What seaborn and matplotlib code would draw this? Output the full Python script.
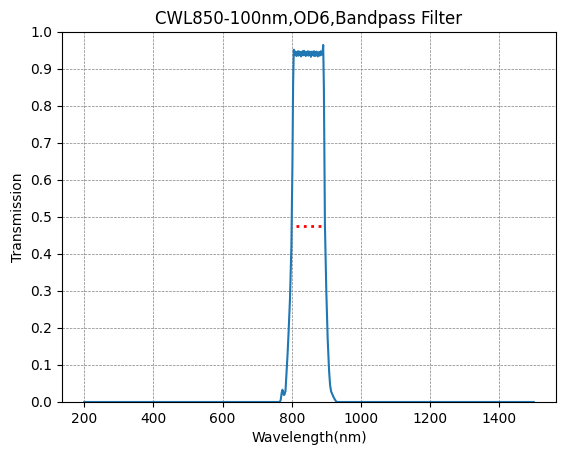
# ============================================================================
# Bandpass filter transmission curve (CWL850-100nm, OD6)
# ============================================================================

import matplotlib
matplotlib.use("Agg")

import pandas as pd
import matplotlib.pyplot as plt
import seaborn as sns


# ============================================================================
# Data
# ============================================================================

wavelength = [
    200, 400, 600, 765, 768, 771, 773, 775, 777, 779, 782, 785, 788,
    791, 795, 799, 802, 804,
    806, 807.5, 809, 810.5, 812, 813.5, 815, 816.5, 818, 819.5, 821, 822.5,
    824, 825.5, 827, 828.5, 830, 831.5, 833, 834.5, 836, 837.5, 839, 840.5,
    842, 843.5, 845, 846.5, 848, 849.5, 851, 852.5, 854, 855.5, 857, 858.5,
    860, 861.5, 863, 864.5, 866, 867.5, 869, 870.5, 872, 873.5, 875, 876.5,
    878, 879.5, 881, 882.5, 884, 885.5, 887, 888.5, 890, 891,
    893, 896, 900, 904, 908, 911, 914, 917, 920, 924, 928, 931,
    1000, 1200, 1500,
]

transmission = [
    0.0, 0.0, 0.0, 0.0, 0.005, 0.025, 0.033, 0.028, 0.019, 0.020, 0.030, 0.08, 0.13,
    0.19, 0.28, 0.42, 0.64, 0.86,
    0.952, 0.946, 0.938, 0.947, 0.941, 0.935, 0.945, 0.939, 0.948, 0.936, 0.943, 0.947,
    0.938, 0.944, 0.934, 0.946, 0.940, 0.948, 0.937, 0.943, 0.949, 0.938, 0.941, 0.935,
    0.946, 0.939, 0.944, 0.948, 0.936, 0.942, 0.947, 0.938, 0.945, 0.933, 0.941, 0.947,
    0.939, 0.944, 0.936, 0.948, 0.940, 0.935, 0.945, 0.938, 0.947, 0.941, 0.934, 0.944,
    0.939, 0.946, 0.936, 0.943, 0.948, 0.938, 0.944, 0.940, 0.952, 0.965,
    0.85, 0.48, 0.30, 0.17, 0.085, 0.045, 0.028, 0.022, 0.015, 0.008, 0.002, 0.0,
    0.0, 0.0, 0.0,
]

# FWHM marker (half maximum level between the band edges)
fwhm_x = [813, 885]
fwhm_y = [0.476, 0.476]

curve = pd.DataFrame({"Wavelength": wavelength, "Transmission": transmission})
fwhm = pd.DataFrame({"Wavelength": fwhm_x, "Transmission": fwhm_y})


# ============================================================================
# Plot
# ============================================================================

fig, ax = plt.subplots(figsize=(5.67, 4.55), dpi=100)
fig.subplots_adjust(left=0.109, right=0.981, bottom=0.1165, top=0.9297)

sns.lineplot(
    data=curve,
    x="Wavelength",
    y="Transmission",
    color="#1f77b4",
    linewidth=1.5,
    ax=ax
)

sns.lineplot(
    data=fwhm,
    x="Wavelength",
    y="Transmission",
    color="red",
    linestyle=":",
    linewidth=2,
    ax=ax
)

ax.set_title("CWL850-100nm,OD6,Bandpass Filter")
ax.set_xlabel("Wavelength(nm)")
ax.set_ylabel("Transmission")

ax.set_ylim(0, 1)
ax.set_yticks([i / 10 for i in range(11)])
ax.set_xticks([200, 400, 600, 800, 1000, 1200, 1400])

ax.grid(True, color="gray", linestyle="--", linewidth=0.5)

fig.savefig("out.png", dpi=100)
